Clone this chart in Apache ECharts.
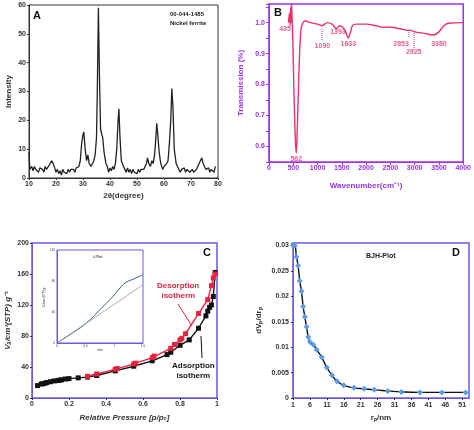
<!DOCTYPE html><html><head><meta charset="utf-8"><script src="https://cdn.jsdelivr.net/npm/echarts@6/dist/echarts.min.js"></script>
<style>html,body{margin:0;background:#fff}#c{width:474px;height:430px}</style></head><body><div id="c"></div><script>
// Panel A: XRD
const xrdX=[10,10.3,11,11.5,12,12.5,13,13.5,14,14.5,15,15.5,16,16.5,17,17.5,18,18.4,19,19.5,20,20.5,21,21.5,22,22.5,23,23.5,24,24.5,25,25.5,26,26.5,27,27.5,28,28.5,29,29.5,30,30.3,30.8,31.3,31.8,32.3,33,33.5,34,34.5,35,35.3,35.7,36.1,36.5,37,37.3,37.8,38.5,39,39.5,40,40.5,41,41.5,42,42.5,43,43.3,43.7,44.2,45,45.5,46,46.5,47,47.5,48,48.5,49,49.5,50,50.5,51,51.5,52,52.5,53,53.5,53.9,54.4,55,55.5,56,56.5,57,57.3,57.7,58.2,58.8,59.5,60,60.5,61,61.5,62,62.5,62.9,63.3,63.8,64.5,65,65.5,66,66.5,67,67.5,68,68.5,69,69.5,70,70.5,71,71.5,72,72.5,73,73.5,74,74.5,75,75.5,76,76.5,77,77.5,78,78.5,79,79.5,80];
const xrdY=[9,3,4,2.5,4,3,3.5,2,3.5,4,3,2,4,3,3.5,4.5,5,6,5,3.5,2,3,1.5,2.5,1,3,2,2.5,1.5,3,2,3,2.5,3,2,3.5,3,4,6,12,15,16,10,6,8,5,4,5,6,8,14,30,59,35,17,15,14,9,5,4,2,3.5,2.5,4,3,5,10,20,24,14,6,4,3,2,3.5,2,3,1.5,3,2,2.5,1.5,3,2,3,2.5,3,4,5,7,5,4,6,5,8,14,19,15,9,5,3,4,3.5,5,6,12,20,31,25,10,5,4,3.5,2,3,2.5,3.5,2,3,2.5,2,1.5,3,2,2.5,3,4,5,6,7,5,4,3,2.5,3.5,2,3,3.5,2,4];
// Panel B: FTIR
const irX=[400,420,435,445,455,465,475,490,510,530,550,562,575,600,630,660,700,750,850,1000,1090,1200,1300,1393,1450,1520,1580,1633,1680,1720,1800,2000,2200,2350,2500,2700,2853,2925,3000,3200,3380,3500,3600,3700,4000];
const irY=[1.0,1.03,0.99,1.05,1.0,1.06,1.02,0.95,0.8,0.68,0.6,0.58,0.62,0.75,0.9,0.98,1.0,1.005,1.0,0.995,0.99,1.0,0.995,0.98,0.99,0.985,0.97,0.95,0.97,0.99,0.995,0.995,0.99,0.985,0.985,0.98,0.975,0.975,0.97,0.965,0.96,0.97,0.99,0.998,1.0];
const irLabX=[330,562,1100,1420,1633,2720,2980,3500];
const irLabY=[0.98,0.56,0.925,0.97,0.93,0.93,0.905,0.93];
const irLab=['435','562','1090','1393','1633','2853','2925','3380'];
// Panel C: isotherms
const adsX=[0.03,0.05,0.06,0.07,0.08,0.1,0.12,0.14,0.15,0.16,0.18,0.2,0.25,0.3,0.35,0.45,0.55,0.65,0.73,0.75,0.8,0.85,0.9,0.94,0.95,0.96,0.97,0.98,0.99];
const adsY=[16,18,18.5,19,20,21,22,22.5,23,23.5,24.5,25,26,27,29,35,41,48,56,59,68,75,90,106,112,117,120,131,162];
const desX=[0.3,0.35,0.45,0.46,0.55,0.56,0.65,0.66,0.75,0.77,0.8,0.81,0.83,0.9,0.95,0.97,0.98,0.99];
const desY=[28,31,37,38,44,45,52,54,64,69,75,77,83,109,127,145,155,160];
// Inset t-plot
const tX=[0,0.25,0.5,0.75,1,1.1,1.2,1.35,1.5];
const tY=[0,12,25,43,62,71,78,83,88];
const tLineX=[0,1.5];
const tLineY=[0,75];
// Panel D: BJH
const bjhX=[1,1.5,2,2.5,3,3.5,4,4.5,5,5.5,6,7,8,9.5,11,12.5,14,16,19,22,25,29,33,38.5,45,52];
const bjhY=[0.03,0.03,0.0278,0.026,0.023,0.021,0.018,0.016,0.014,0.012,0.011,0.0105,0.0095,0.008,0.006,0.0045,0.0033,0.0025,0.002,0.0018,0.0016,0.0014,0.0012,0.0011,0.0011,0.0011];

const zip=(a,b)=>a.map((v,i)=>[v,b[i]]);
const lab={fontSize:7,fontWeight:'bold',color:'#333',fontFamily:'Liberation Sans'};
const frame=c=>({show:true,lineStyle:{color:c,width:1}});
function ax(o){return Object.assign({type:'value',axisLine:frame('#333'),axisTick:{show:true,inside:false,length:2,lineStyle:{color:'#333'}},splitLine:{show:false},axisLabel:Object.assign({},lab,{margin:3}),nameLocation:'middle',nameTextStyle:{fontSize:8,fontWeight:'bold',color:'#333',fontFamily:'Liberation Sans'}},o);}
const purple='#9933ee';
const pink='#e8336b';
const blueFrame='#6a5ae0';
const option={animation:false,
grid:[
 {left:29,top:5,width:189,height:173,show:true,borderColor:'#333'},
 {left:269,top:4,width:196,height:158,show:true,borderColor:purple,borderWidth:1.5},
 {left:32,top:243,width:185,height:155,show:true,borderColor:blueFrame,borderWidth:1.5},
 {left:57,top:250,width:86,height:93,show:true,borderColor:blueFrame,borderWidth:1,backgroundColor:'#fff'},
 {left:293,top:243,width:176,height:155,show:true,borderColor:blueFrame,borderWidth:1.5}],
xAxis:[
 ax({gridIndex:0,min:10,max:80,interval:10,name:'2θ(degree)',nameGap:14}),
 ax({gridIndex:1,min:0,max:4000,interval:500,axisLine:frame(purple),axisTick:{length:3,lineStyle:{color:purple}},axisLabel:Object.assign({},lab,{color:purple,margin:3,formatter:v=>String(v)}),name:'Wavenumber(cm⁻¹)',nameGap:20,nameTextStyle:{fontSize:8,fontWeight:'bold',color:purple}}),
 ax({gridIndex:2,min:0,max:1,interval:0.2,axisLine:frame(blueFrame),name:'Relative Pressure [p/p₀]',nameGap:16,nameTextStyle:{fontSize:8,fontWeight:'bold',fontStyle:'italic',color:'#333'}}),
 ax({gridIndex:3,min:0,max:1.5,interval:0.5,axisLine:frame(blueFrame),axisTick:{show:false},axisLabel:{fontSize:3,color:'#333',margin:2},name:'t/nm',nameGap:6,nameTextStyle:{fontSize:3,color:'#333'}}),
 ax({gridIndex:4,min:1,max:53,interval:5,axisLine:frame(blueFrame),axisLabel:Object.assign({},lab,{margin:4,showMaxLabel:false}),name:'rₚ/nm',nameGap:16,nameTextStyle:{fontSize:8,fontWeight:'bold',color:'#333'}})],
yAxis:[
 ax({gridIndex:0,min:0,max:60,interval:10,name:'Intensity',nameGap:16}),
 ax({gridIndex:1,min:0.55,max:1.06,interval:0.05,axisLine:frame(purple),axisTick:{length:3,lineStyle:{color:purple}},axisLabel:Object.assign({},lab,{color:purple,margin:4,formatter:v=>{const r=Math.round(v*100);return r%10===0&&r<=100?(r/100).toFixed(1):'';}}),name:'Transmission (%)',nameGap:24,nameTextStyle:{fontSize:8,fontWeight:'bold',color:purple}}),
 ax({gridIndex:2,min:0,max:200,interval:40,axisLine:frame(blueFrame),name:'Vₐ/cm³(STP) g⁻¹',nameGap:20,nameTextStyle:{fontSize:8,fontWeight:'bold',fontStyle:'italic',color:'#333'}}),
 ax({gridIndex:3,min:0,max:120,interval:40,axisLine:frame(blueFrame),axisTick:{show:false},axisLabel:{fontSize:3,color:'#333',margin:2},name:'Vₐ/cm³(STP) g⁻¹',nameGap:6,nameTextStyle:{fontSize:3,color:'#333'}}),
 ax({gridIndex:4,min:0,max:0.0305,interval:0.005,axisLine:frame(blueFrame),axisLabel:Object.assign({},lab,{margin:4,formatter:v=>v>0.0301?'':String(+v.toFixed(3))}),name:'dVₚ/drₚ',nameGap:30,nameTextStyle:{fontSize:8,fontWeight:'bold',color:'#333'}})],
series:[
 {type:'line',xAxisIndex:0,yAxisIndex:0,data:zip(xrdX,xrdY),symbol:'none',lineStyle:{color:'#222',width:1.3}},
 {type:'line',xAxisIndex:1,yAxisIndex:1,data:zip(irX,irY),symbol:'none',smooth:0.3,lineStyle:{color:pink,width:1.4}},
 {type:'scatter',xAxisIndex:1,yAxisIndex:1,data:zip(irLabX,irLabY),symbolSize:0,label:{show:true,formatter:p=>irLab[p.dataIndex],fontSize:7,fontWeight:'bold',color:pink,position:'inside'}},
 {type:'line',xAxisIndex:2,yAxisIndex:2,data:zip(adsX,adsY),symbol:'rect',symbolSize:5,lineStyle:{color:'#111',width:1.4},itemStyle:{color:'#111'}},
 {type:'line',xAxisIndex:2,yAxisIndex:2,data:zip(desX,desY),symbol:'rect',symbolSize:5,lineStyle:{color:'#e8233f',width:1.4},itemStyle:{color:'#e8233f'}},
 {type:'line',xAxisIndex:3,yAxisIndex:3,data:zip(tX,tY),symbol:'none',smooth:true,lineStyle:{color:'#345d8f',width:1}},
 {type:'line',xAxisIndex:3,yAxisIndex:3,data:zip(tLineX,tLineY),symbol:'none',lineStyle:{color:'#999',width:0.8}},
 {type:'line',xAxisIndex:4,yAxisIndex:4,data:zip(bjhX,bjhY),smooth:true,symbol:'diamond',symbolSize:6,lineStyle:{color:'#111',width:1.4},itemStyle:{color:'#5b9be8'}}
],
graphic:[
 {type:'text',left:33,top:10,style:{text:'A',font:'bold 11px Liberation Sans',fill:'#111'}},
 {type:'text',left:170,top:10,style:{text:'00-044-1485\nNickel ferrite',font:'bold 6px Liberation Sans',fill:'#222',lineHeight:9}},
 {type:'text',left:274,top:7,style:{text:'B',font:'bold 11px Liberation Sans',fill:'#111'}},
 {type:'text',left:203,top:247,style:{text:'C',font:'bold 11px Liberation Sans',fill:'#111'}},
 {type:'text',left:452,top:247,style:{text:'D',font:'bold 11px Liberation Sans',fill:'#111'}},
 {type:'text',left:366,top:253,style:{text:'BJH-Plot',font:'bold 7px Liberation Sans',fill:'#222'}},
 {type:'text',left:93,top:255,style:{text:'t-Plot',font:'4px Liberation Sans',fill:'#222'}},
 {type:'text',left:157,top:281,style:{text:'Desorption\n  isotherm',font:'bold 8px Liberation Sans',fill:'#e8233f',lineHeight:10}},
 {type:'text',left:172,top:361,style:{text:'Adsorption\n  isotherm',font:'bold 8px Liberation Sans',fill:'#111',lineHeight:10}},
 {type:'line',shape:{x1:178,y1:304,x2:192,y2:326},style:{stroke:'#e8233f',lineWidth:1}},
 {type:'line',shape:{x1:202,y1:358,x2:201,y2:336},style:{stroke:'#111',lineWidth:1}},
 {type:'line',shape:{x1:322,y1:40,x2:322,y2:28},style:{stroke:purple,lineWidth:1,lineDash:[1,1]}},
 {type:'line',shape:{x1:409,y1:37,x2:409,y2:31},style:{stroke:purple,lineWidth:1,lineDash:[1,1]}},
 {type:'line',shape:{x1:414,y1:50,x2:414,y2:31},style:{stroke:purple,lineWidth:1,lineDash:[1,1]}}
]};
echarts.init(document.getElementById('c')).setOption(option);
</script></body></html>
